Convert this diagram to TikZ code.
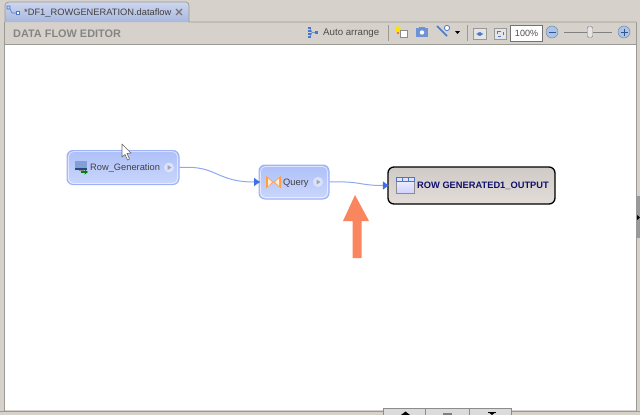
\documentclass[tikz,border=0pt]{standalone}
\usepackage{fontspec}
\setmainfont{Liberation Sans}
\usetikzlibrary{arrows.meta}
\definecolor{chrome}{HTML}{D6D2CB}
\definecolor{edge}{HTML}{9A9A94}
\definecolor{nodeedge}{HTML}{9DB2F6}
\definecolor{wire}{HTML}{8FA8F4}
\definecolor{tipblue}{HTML}{3F6FE8}
\definecolor{salmon}{HTML}{FA8660}
\definecolor{navytext}{HTML}{10106E}
\definecolor{outtop}{HTML}{D0CAC6}
\definecolor{outbot}{HTML}{E2DDD8}
\definecolor{nodetop}{HTML}{AEC0F8}
\definecolor{nodebot}{HTML}{CAD6FC}
\definecolor{tabtop}{HTML}{CDD6F0}
\definecolor{tabbot}{HTML}{A9B8DE}
\definecolor{btnblue}{HTML}{A9C4E8}
\definecolor{iconblue}{HTML}{4A78C8}
\tikzset{
  blocknode/.style={draw=nodeedge,line width=1pt,rounded corners=6pt,top color=nodetop,bottom color=nodebot,minimum height=34pt,inner sep=0pt},
  outnode/.style={draw=black,line width=1.3pt,rounded corners=6pt,top color=outtop,bottom color=outbot,minimum height=37pt,minimum width=167pt,inner sep=0pt},
  wireline/.style={draw=wire,line width=1pt},
  lab/.style={font=\fontsize{9.3}{10}\selectfont,text=#1,inner sep=0pt,anchor=west},
  lab/.default={black!70},
  sep/.style={draw=edge,line width=.8pt},
  roundbtn/.style={circle,draw=#1!70!black,fill=#1,line width=.5pt,minimum size=12pt,inner sep=0pt},
  portdot/.style={circle,fill=#1,minimum size=10pt,inner sep=0pt},
  inset/.style={draw=white,opacity=.55,line width=.8pt,rounded corners=5pt},
  porttip/.style={-{Latex[length=6.5pt,width=9pt,color=tipblue]},shorten >=-2pt},
}
\begin{document}
\begin{tikzpicture}[x=1pt,y=-1pt]
\useasboundingbox (0,0) rectangle (640,415);
% window chrome
\fill[chrome] (0,0) rectangle (640,415);
\fill[white] (5,44) rectangle (636,410);
\draw[edge,line width=1pt] (5,44) -- (636,44);
\draw[edge,line width=.8pt] (636,22) -- (636,411);
\draw[edge,line width=.8pt] (0,411) -- (640,411);
\draw[edge,line width=.8pt] (4.5,22) -- (4.5,411);
% tab
\path[top color=tabtop,bottom color=tabbot] (5,22) -- (5,5) to[out=90,in=180] (9,2) -- (186,2) to[out=0,in=90] (189,6) -- (189,22) -- cycle;
\draw[edge,line width=.7pt] (5,22) -- (5,5) to[out=90,in=180] (9,2) -- (186,2) to[out=0,in=90] (189,6) -- (189,22) -- (636,22);
\node[lab=black!75] (tabtitle) at (24,12.8) {*DF1\_ROWGENERATION.dataflow};
\node[lab=black!48,font=\fontsize{10.9}{11}\selectfont\bfseries] (editortitle) at (13,33.5) {DATA FLOW EDITOR};
% tab icon and close mark
\draw[iconblue,line width=.6pt] (7,6) rectangle (10,9) (10,9) -- (12,13) -- (16,13);
\draw[iconblue,fill=white,line width=.6pt] (16,11.5) rectangle (19,14.5);
\draw[black!55,line width=1.4pt] (176,9) -- (182,15) (182,9) -- (176,15);
% toolbar
\foreach \yy in {28,31,34,37}{\fill[iconblue] (307.5,\yy-1) rectangle (310.5,\yy+1);}
\draw[iconblue,line width=.5pt] (310,28) -- (312,32.5) -- (310,37) (312,32.5) -- (315,32.5);
\fill[iconblue] (315,31) rectangle (318,34);
\node[lab=black!70,font=\fontsize{9.7}{10}\selectfont] (autoarrange) at (323,33.5) {Auto arrange};
\draw[sep] (388.5,25) -- (388.5,41);
\fill[yellow!85!orange] (398,29) circle (2.8);
\fill[orange!70!brown] (397,32) rectangle (399,34);
\draw[black!45,fill=white,line width=.5pt] (400,30.5) rectangle (407,37.5);
\fill[iconblue!80!white] (416,28) rectangle (428,37);
\fill[iconblue!80!white] (419,26.5) rectangle (425,28);
\fill[white] (422,32.5) circle (2.2);
\draw[iconblue,line width=1.6pt] (437,26) -- (447,36);
\draw[iconblue,fill=white,line width=.8pt] (447,28) circle (2.6);
\fill[black] (455,31) -- (460,31) -- (457.5,34) -- cycle;
\draw[sep] (467.5,25) -- (467.5,41);
\draw[black!40,fill=black!10] (473.5,28) rectangle (486,39);
\draw[iconblue,<->,>=Stealth,line width=.5pt] (476,34) -- (483.5,34);
\draw[black!40,fill=black!10] (494,28) rectangle (506,39);
\draw[iconblue,line width=.6pt,dashed] (497,31) rectangle (503,36);
\node[draw=black!55,fill=white,line width=.7pt,minimum width=32pt,minimum height=16pt,inner sep=0pt,font=\fontsize{9}{10}\selectfont,text=black!70] (zoombox) at (526.5,33) {100\%};
\node[roundbtn=btnblue] (zoomout) at (552,32) {};
\draw[iconblue!70!black,line width=1pt] (548.5,32) -- (555.5,32);
\draw[black!50,line width=.6pt] (564,32) -- (612,32);
\node[draw=black!50,fill=black!10,rounded corners=1.5pt,minimum width=5.5pt,minimum height=11pt,inner sep=0pt] (zoomthumb) at (590,32) {};
\node[roundbtn=btnblue] (zoomin) at (624,32) {};
\draw[iconblue!70!black,line width=1pt] (620.5,32) -- (627.5,32) (624,28.5) -- (624,35.5);
% right handle and bottom buttons
\fill[black!40] (636,196) rectangle (640,238);
\fill[black] (637,215) -- (640,217.5) -- (637,220) -- cycle;
\draw[black!45,fill=black!14,line width=.6pt] (383.5,416) -- (383.5,408) -- (511.5,408) -- (511.5,416);
\draw[black!45,line width=.6pt] (425.5,408) -- (425.5,416) (469.5,408) -- (469.5,416);
\fill[black] (401,415) -- (405.5,411.5) -- (410,415) -- cycle;
\fill[black!50] (443,413) rectangle (452,415);
\fill[black] (488,411.5) rectangle (496,413);
\fill[black] (489.5,413) -- (494.5,413) -- (492,415) -- cycle;
% nodes
\node[blocknode,minimum width=112pt] (rg) at (123,167.5) {};
\node[blocknode,minimum width=70pt] (q) at (294,182) {};
\node[outnode] (out) at (471.5,185.5) {};
\draw[inset] (68.5,151.5) rectangle (177.5,183.5);
\draw[inset] (260.5,166.5) rectangle (327.5,197.5);
\node[lab=black!75] (rgtext) at (90,168.5) {Row\_Generation};
\node[lab=black!75] (qtext) at (283,183) {Query};
\node[lab=navytext,font=\fontsize{9.3}{10}\selectfont\bfseries] (outtext) at (417,186) {ROW GENERATED1\_OUTPUT};
% node icons
\fill[iconblue!70!white] (75,161) rectangle (87,168);
\fill[iconblue!60!black] (75,168) rectangle (87,169.5);
\fill[black!45] (79,169.5) rectangle (84,171);
\draw[green!50!black,-{Stealth[length=3.5pt,width=5pt]},line width=1.2pt] (81,172) -- (88,172);
\fill[orange!75!white] (266,176) -- (273.5,182) -- (266,188.5) -- cycle;
\fill[orange!75!white] (281,176) -- (273.5,182) -- (281,188.5) -- cycle;
\fill[orange!12!white] (268,178.5) -- (272,182) -- (268,186) -- cycle (279,178.5) -- (275,182) -- (279,186) -- cycle;
\draw[black!45,top color=blue!4,bottom color=blue!18,line width=.7pt] (396,177) rectangle (414,193);
\draw[iconblue,line width=.7pt,fill=blue!12] (396,177) rectangle (414,181);
\draw[iconblue,line width=.5pt] (402,177) -- (402,181) (408,177) -- (408,181);
% port dots
\node[portdot=nodebot!70!white] (rgport) at (169,167.5) {};
\fill[black!35] (167.5,165) -- (171.5,167.5) -- (167.5,170) -- cycle;
\node[portdot=nodebot!70!white] (qport) at (318,182) {};
\fill[black!35] (316.5,179.5) -- (320.5,182) -- (316.5,184.5) -- cycle;
% connectors
\draw[wireline,porttip] (rg.east) .. controls (218,165) and (215,182) .. (q.west);
\draw[wireline,porttip] (q.east) .. controls (362,181) and (358,185.5) .. (out.west);
% orange pointer
\coordinate (pointertip) at (355,195);
\fill[salmon] (pointertip) -- (369,221) -- (361.5,221) -- (361.5,258) -- (352.5,258) -- (352.5,221) -- (343,221) -- cycle;
% mouse pointer
\draw[black!60,fill=white,line width=.6pt,line join=round] (122,144) -- (122,157) -- (125,154.5) -- (127.5,160) -- (129.5,159) -- (127,153.5) -- (131,153) -- cycle;
\end{tikzpicture}
\end{document}
